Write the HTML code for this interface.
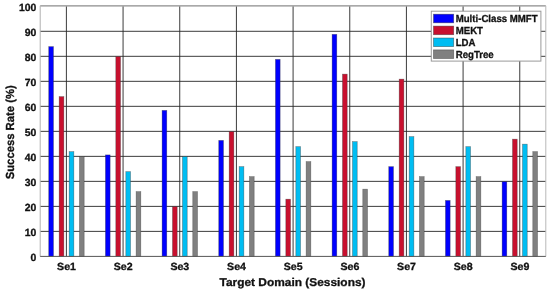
<!DOCTYPE html><html><head><meta charset="utf-8"><style>html,body{margin:0;padding:0;background:#fff}svg{display:block}text{font-family:"Liberation Sans",Arial,sans-serif;font-weight:bold;fill:#111;stroke:#111;stroke-width:0.3px;text-rendering:geometricPrecision}</style></head><body>
<svg width="550" height="294" viewBox="0 0 550 294">
<rect width="550" height="294" fill="#fff"/>
<line x1="40.2" x2="545.8" y1="231.39" y2="231.39" stroke="#262626" stroke-width="0.9"/>
<line x1="40.2" x2="545.8" y1="206.38" y2="206.38" stroke="#262626" stroke-width="0.9"/>
<line x1="40.2" x2="545.8" y1="181.37" y2="181.37" stroke="#262626" stroke-width="0.9"/>
<line x1="40.2" x2="545.8" y1="156.36" y2="156.36" stroke="#262626" stroke-width="0.9"/>
<line x1="40.2" x2="545.8" y1="131.35" y2="131.35" stroke="#262626" stroke-width="0.9"/>
<line x1="40.2" x2="545.8" y1="106.34" y2="106.34" stroke="#262626" stroke-width="0.9"/>
<line x1="40.2" x2="545.8" y1="81.33" y2="81.33" stroke="#262626" stroke-width="0.9"/>
<line x1="40.2" x2="545.8" y1="56.32" y2="56.32" stroke="#262626" stroke-width="0.9"/>
<line x1="40.2" x2="545.8" y1="31.31" y2="31.31" stroke="#262626" stroke-width="0.9"/>
<line x1="66.40" x2="66.40" y1="6.3" y2="256.4" stroke="#262626" stroke-width="0.9"/>
<line x1="123.07" x2="123.07" y1="6.3" y2="256.4" stroke="#262626" stroke-width="0.9"/>
<line x1="179.74" x2="179.74" y1="6.3" y2="256.4" stroke="#262626" stroke-width="0.9"/>
<line x1="236.41" x2="236.41" y1="6.3" y2="256.4" stroke="#262626" stroke-width="0.9"/>
<line x1="293.08" x2="293.08" y1="6.3" y2="256.4" stroke="#262626" stroke-width="0.9"/>
<line x1="349.75" x2="349.75" y1="6.3" y2="256.4" stroke="#262626" stroke-width="0.9"/>
<line x1="406.42" x2="406.42" y1="6.3" y2="256.4" stroke="#262626" stroke-width="0.9"/>
<line x1="463.09" x2="463.09" y1="6.3" y2="256.4" stroke="#262626" stroke-width="0.9"/>
<line x1="519.76" x2="519.76" y1="6.3" y2="256.4" stroke="#262626" stroke-width="0.9"/>
<rect x="48.75" y="46.62" width="4.7" height="209.78" fill="#0000ff" stroke="#333" stroke-opacity="0.55" stroke-width="0.6"/>
<rect x="59.15" y="96.64" width="4.7" height="159.76" fill="#c8102e" stroke="#333" stroke-opacity="0.55" stroke-width="0.6"/>
<rect x="69.15" y="151.66" width="4.7" height="104.74" fill="#00bdf2" stroke="#333" stroke-opacity="0.55" stroke-width="0.6"/>
<rect x="79.45" y="156.66" width="4.7" height="99.74" fill="#808080" stroke="#333" stroke-opacity="0.55" stroke-width="0.6"/>
<rect x="105.42" y="154.91" width="4.7" height="101.49" fill="#0000ff" stroke="#333" stroke-opacity="0.55" stroke-width="0.6"/>
<rect x="115.82" y="56.62" width="4.7" height="199.78" fill="#c8102e" stroke="#333" stroke-opacity="0.55" stroke-width="0.6"/>
<rect x="125.82" y="171.67" width="4.7" height="84.73" fill="#00bdf2" stroke="#333" stroke-opacity="0.55" stroke-width="0.6"/>
<rect x="136.12" y="191.67" width="4.7" height="64.73" fill="#808080" stroke="#333" stroke-opacity="0.55" stroke-width="0.6"/>
<rect x="162.09" y="110.39" width="4.7" height="146.01" fill="#0000ff" stroke="#333" stroke-opacity="0.55" stroke-width="0.6"/>
<rect x="172.49" y="206.68" width="4.7" height="49.72" fill="#c8102e" stroke="#333" stroke-opacity="0.55" stroke-width="0.6"/>
<rect x="182.49" y="156.66" width="4.7" height="99.74" fill="#00bdf2" stroke="#333" stroke-opacity="0.55" stroke-width="0.6"/>
<rect x="192.79" y="191.67" width="4.7" height="64.73" fill="#808080" stroke="#333" stroke-opacity="0.55" stroke-width="0.6"/>
<rect x="218.76" y="140.40" width="4.7" height="116.00" fill="#0000ff" stroke="#333" stroke-opacity="0.55" stroke-width="0.6"/>
<rect x="229.16" y="131.65" width="4.7" height="124.75" fill="#c8102e" stroke="#333" stroke-opacity="0.55" stroke-width="0.6"/>
<rect x="239.16" y="166.66" width="4.7" height="89.74" fill="#00bdf2" stroke="#333" stroke-opacity="0.55" stroke-width="0.6"/>
<rect x="249.46" y="176.67" width="4.7" height="79.73" fill="#808080" stroke="#333" stroke-opacity="0.55" stroke-width="0.6"/>
<rect x="275.43" y="59.37" width="4.7" height="197.03" fill="#0000ff" stroke="#333" stroke-opacity="0.55" stroke-width="0.6"/>
<rect x="285.83" y="199.18" width="4.7" height="57.22" fill="#c8102e" stroke="#333" stroke-opacity="0.55" stroke-width="0.6"/>
<rect x="295.83" y="146.66" width="4.7" height="109.74" fill="#00bdf2" stroke="#333" stroke-opacity="0.55" stroke-width="0.6"/>
<rect x="306.13" y="161.66" width="4.7" height="94.74" fill="#808080" stroke="#333" stroke-opacity="0.55" stroke-width="0.6"/>
<rect x="332.10" y="34.36" width="4.7" height="222.04" fill="#0000ff" stroke="#333" stroke-opacity="0.55" stroke-width="0.6"/>
<rect x="342.50" y="74.13" width="4.7" height="182.27" fill="#c8102e" stroke="#333" stroke-opacity="0.55" stroke-width="0.6"/>
<rect x="352.50" y="141.65" width="4.7" height="114.75" fill="#00bdf2" stroke="#333" stroke-opacity="0.55" stroke-width="0.6"/>
<rect x="362.80" y="189.17" width="4.7" height="67.23" fill="#808080" stroke="#333" stroke-opacity="0.55" stroke-width="0.6"/>
<rect x="388.77" y="166.66" width="4.7" height="89.74" fill="#0000ff" stroke="#333" stroke-opacity="0.55" stroke-width="0.6"/>
<rect x="399.17" y="79.13" width="4.7" height="177.27" fill="#c8102e" stroke="#333" stroke-opacity="0.55" stroke-width="0.6"/>
<rect x="409.17" y="136.65" width="4.7" height="119.75" fill="#00bdf2" stroke="#333" stroke-opacity="0.55" stroke-width="0.6"/>
<rect x="419.47" y="176.67" width="4.7" height="79.73" fill="#808080" stroke="#333" stroke-opacity="0.55" stroke-width="0.6"/>
<rect x="445.44" y="200.43" width="4.7" height="55.97" fill="#0000ff" stroke="#333" stroke-opacity="0.55" stroke-width="0.6"/>
<rect x="455.84" y="166.66" width="4.7" height="89.74" fill="#c8102e" stroke="#333" stroke-opacity="0.55" stroke-width="0.6"/>
<rect x="465.84" y="146.66" width="4.7" height="109.74" fill="#00bdf2" stroke="#333" stroke-opacity="0.55" stroke-width="0.6"/>
<rect x="476.14" y="176.67" width="4.7" height="79.73" fill="#808080" stroke="#333" stroke-opacity="0.55" stroke-width="0.6"/>
<rect x="502.11" y="181.67" width="4.7" height="74.73" fill="#0000ff" stroke="#333" stroke-opacity="0.55" stroke-width="0.6"/>
<rect x="512.51" y="139.15" width="4.7" height="117.25" fill="#c8102e" stroke="#333" stroke-opacity="0.55" stroke-width="0.6"/>
<rect x="522.51" y="144.16" width="4.7" height="112.24" fill="#00bdf2" stroke="#333" stroke-opacity="0.55" stroke-width="0.6"/>
<rect x="532.81" y="151.66" width="4.7" height="104.74" fill="#808080" stroke="#333" stroke-opacity="0.55" stroke-width="0.6"/>
<line x1="40.2" x2="545.8" y1="5.8" y2="5.8" stroke="#8c8c8c" stroke-width="1.2"/>
<line x1="545.8" x2="545.8" y1="5.8" y2="256.4" stroke="#b8b8b8" stroke-width="1"/>
<line x1="40.2" x2="40.2" y1="5.8" y2="256.4" stroke="#b0b0b0" stroke-width="1"/>
<line x1="40.2" x2="545.8" y1="256.4" y2="256.4" stroke="#555" stroke-width="1"/>
<text transform="translate(36.4,260.60) scale(1.0,1)" font-size="10.4" text-anchor="end">0</text>
<text transform="translate(36.4,235.59) scale(1.0,1)" font-size="10.4" text-anchor="end">10</text>
<text transform="translate(36.4,210.58) scale(1.0,1)" font-size="10.4" text-anchor="end">20</text>
<text transform="translate(36.4,185.57) scale(1.0,1)" font-size="10.4" text-anchor="end">30</text>
<text transform="translate(36.4,160.56) scale(1.0,1)" font-size="10.4" text-anchor="end">40</text>
<text transform="translate(36.4,135.55) scale(1.0,1)" font-size="10.4" text-anchor="end">50</text>
<text transform="translate(36.4,110.54) scale(1.0,1)" font-size="10.4" text-anchor="end">60</text>
<text transform="translate(36.4,85.53) scale(1.0,1)" font-size="10.4" text-anchor="end">70</text>
<text transform="translate(36.4,60.52) scale(1.0,1)" font-size="10.4" text-anchor="end">80</text>
<text transform="translate(36.4,35.51) scale(1.0,1)" font-size="10.4" text-anchor="end">90</text>
<text transform="translate(36.4,10.50) scale(1.0,1)" font-size="10.4" text-anchor="end">100</text>
<text transform="translate(66.50,270.25) scale(1.02,1)" font-size="10.4" text-anchor="middle">Se1</text>
<text transform="translate(123.17,270.25) scale(1.02,1)" font-size="10.4" text-anchor="middle">Se2</text>
<text transform="translate(179.84,270.25) scale(1.02,1)" font-size="10.4" text-anchor="middle">Se3</text>
<text transform="translate(236.51,270.25) scale(1.02,1)" font-size="10.4" text-anchor="middle">Se4</text>
<text transform="translate(293.18,270.25) scale(1.02,1)" font-size="10.4" text-anchor="middle">Se5</text>
<text transform="translate(349.85,270.25) scale(1.02,1)" font-size="10.4" text-anchor="middle">Se6</text>
<text transform="translate(406.52,270.25) scale(1.02,1)" font-size="10.4" text-anchor="middle">Se7</text>
<text transform="translate(463.19,270.25) scale(1.02,1)" font-size="10.4" text-anchor="middle">Se8</text>
<text transform="translate(519.86,270.25) scale(1.02,1)" font-size="10.4" text-anchor="middle">Se9</text>
<text transform="translate(219.5,286.2) scale(1.054,1)" font-size="11.3">Target Domain (Sessions)</text>
<text transform="translate(13.7,179.3) rotate(-90)" font-size="11.7" textLength="94" lengthAdjust="spacingAndGlyphs">Success Rate (%)</text>
<rect x="431.3" y="11.2" width="109.6" height="49.9" fill="#fff" stroke="#9a9a9a" stroke-width="1"/>
<rect x="433.5" y="14.20" width="20.2" height="8.6" fill="#0000ff" stroke="#333" stroke-opacity="0.6" stroke-width="0.7"/>
<text transform="translate(455.7,21.70) scale(0.946,1)" font-size="10.2">Multi-Class MMFT</text>
<rect x="433.5" y="26.10" width="20.2" height="8.6" fill="#c8102e" stroke="#333" stroke-opacity="0.6" stroke-width="0.7"/>
<text transform="translate(455.7,33.90) scale(0.946,1)" font-size="10.2">MEKT</text>
<rect x="433.5" y="38.00" width="20.2" height="8.6" fill="#00bdf2" stroke="#333" stroke-opacity="0.6" stroke-width="0.7"/>
<text transform="translate(455.7,45.80) scale(0.946,1)" font-size="10.2">LDA</text>
<rect x="433.5" y="49.90" width="20.2" height="8.6" fill="#808080" stroke="#333" stroke-opacity="0.6" stroke-width="0.7"/>
<text transform="translate(455.7,57.70) scale(0.946,1)" font-size="10.2">RegTree</text>
</svg></body></html>
